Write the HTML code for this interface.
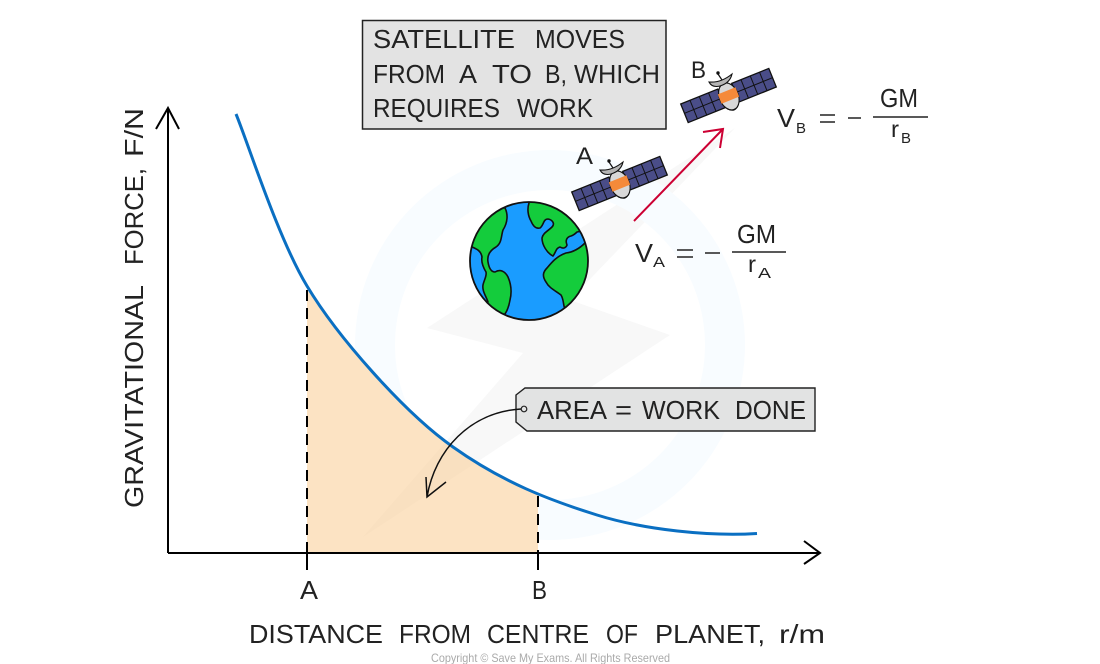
<!DOCTYPE html>
<html>
<head>
<meta charset="utf-8">
<style>
html,body{margin:0;padding:0;background:#fff;width:1100px;height:664px;overflow:hidden}
svg{display:block}
text{font-family:"Liberation Sans",sans-serif;fill:#222;font-size:26px}
</style>
</head>
<body>
<svg width="1100" height="664" viewBox="0 0 1100 664" xmlns="http://www.w3.org/2000/svg">
<defs>
<clipPath id="earth"><circle cx="529" cy="261" r="59"/></clipPath>
<clipPath id="xrange"><rect x="307" y="200" width="231" height="353"/></clipPath>
<clipPath id="area"><path d="M307,286 C337,336 403,411.5 453,447 C503,482.5 549,500 597,515 C645,530 710,536.5 757,533.5 L757,553 L307,553 Z"/></clipPath>
<g id="sat">
<g transform="translate(619.5,183.5) rotate(-22)">
<g fill="#4a4d88" stroke="#111" stroke-width="1.3">
<rect x="-47.5" y="-10" width="40" height="20"/>
<rect x="7.5" y="-10" width="40" height="20"/>
</g>
<path d="M-37.5,-10V10M-27.5,-10V10M-17.5,-10V10M-47.5,0H-7.5M17.5,-10V10M27.5,-10V10M37.5,-10V10M7.5,0H47.5" stroke="#111" stroke-width="1" fill="none"/>
<path d="M-6,12 Q0,19 6,12 L5,9 L-5,9 Z" fill="#888" stroke="#111" stroke-width="1"/>
<ellipse cx="0" cy="1" rx="9.5" ry="14" fill="#d8d8d8" stroke="#111" stroke-width="1.1"/>
<path d="M-9.5,-5 H9.5 V5 H-9.5 Z" fill="#f58a3a"/>
</g>
<path d="M600,170 Q612,171 623,162 Q621,171 611,174 Q603,176 600,170 Z" fill="#b5b5b5" stroke="#111" stroke-width="1.1"/>
<path d="M609,162 L613,168" stroke="#111" stroke-width="1.2"/>
<circle cx="609" cy="161" r="1.7" fill="#111"/>
</g>
</defs>

<rect width="1100" height="664" fill="#fff"/>

<!-- watermark -->
<path fill="#f8f8f8" d="M735,128 L427,328 L523,353 L363,537 L670,335 L570,300 Z"/>
<path fill-rule="evenodd" fill="#f8fcff" d="M355,345 a195,195 0 1,0 390,0 a195,195 0 1,0 -390,0 Z M395,345 a155,155 0 1,1 310,0 a155,155 0 1,1 -310,0 Z"/>

<!-- shaded area -->
<g clip-path="url(#xrange)">
<path d="M307,286 C337,336 403,411.5 453,447 C503,482.5 549,500 597,515 C645,530 710,536.5 757,533.5 L757,553 L307,553 Z" fill="#fce3c3"/>
<path clip-path="url(#area)" fill="#f9e0c0" d="M735,128 L427,328 L523,353 L363,537 L670,335 L570,300 Z"/>
</g>

<!-- axes -->
<path d="M168,553 V108 M156,129 L168,108 L179,129" fill="none" stroke="#000" stroke-width="2"/>
<path d="M168,553 H820 M804,541 L820,553 L804,564" fill="none" stroke="#000" stroke-width="2"/>

<!-- dashes -->
<path d="M307,290 V553" stroke="#000" stroke-width="2" stroke-dasharray="11,7" fill="none"/>
<path d="M538,496 V553" stroke="#000" stroke-width="2" stroke-dasharray="11,7" fill="none"/>
<path d="M307,553 V570 M538,553 V570" stroke="#000" stroke-width="2" fill="none"/>

<!-- curve -->
<path d="M236,114 C248,143 278,238 307,286 C337,336 403,411.5 453,447 C503,482.5 549,500 597,515 C645,530 710,536.5 757,533.5" fill="none" stroke="#0a6fc2" stroke-width="3"/>

<!-- axis labels -->
<text x="300" y="599" textLength="18" lengthAdjust="spacingAndGlyphs">A</text>
<text x="532" y="599" textLength="15" lengthAdjust="spacingAndGlyphs">B</text>
<g>
<text x="249" y="643" textLength="134" lengthAdjust="spacingAndGlyphs">DISTANCE</text>
<text x="399" y="643" textLength="72" lengthAdjust="spacingAndGlyphs">FROM</text>
<text x="487" y="643" textLength="102" lengthAdjust="spacingAndGlyphs">CENTRE</text>
<text x="606" y="643" textLength="32" lengthAdjust="spacingAndGlyphs">OF</text>
<text x="655" y="643" textLength="110" lengthAdjust="spacingAndGlyphs">PLANET,</text>
<text x="779" y="643" textLength="46" lengthAdjust="spacingAndGlyphs">r/m</text>
</g>
<g>
<text transform="translate(143,508) rotate(-90)" textLength="223" lengthAdjust="spacingAndGlyphs">GRAVITATIONAL</text>
<text transform="translate(143,265) rotate(-90)" textLength="97" lengthAdjust="spacingAndGlyphs">FORCE,</text>
<text transform="translate(143,157) rotate(-90)" textLength="49" lengthAdjust="spacingAndGlyphs">F/N</text>
</g>
<text x="431" y="662" textLength="239" lengthAdjust="spacingAndGlyphs" style="fill:#aaa;font-size:12px">Copyright © Save My Exams. All Rights Reserved</text>

<!-- info box -->
<rect x="362.5" y="20.5" width="303.5" height="108.5" fill="#e3e3e3" stroke="#222" stroke-width="1.5"/>
<text x="373" y="48" textLength="142" lengthAdjust="spacingAndGlyphs">SATELLITE</text>
<text x="535" y="48" textLength="90" lengthAdjust="spacingAndGlyphs">MOVES</text>
<text x="373" y="83" textLength="72" lengthAdjust="spacingAndGlyphs">FROM</text>
<text x="459" y="83" textLength="18" lengthAdjust="spacingAndGlyphs">A</text>
<text x="492" y="83" textLength="40" lengthAdjust="spacingAndGlyphs">TO</text>
<text x="545" y="83" textLength="22" lengthAdjust="spacingAndGlyphs">B,</text>
<text x="574" y="83" textLength="86" lengthAdjust="spacingAndGlyphs">WHICH</text>
<text x="373" y="117" textLength="127" lengthAdjust="spacingAndGlyphs">REQUIRES</text>
<text x="517" y="117" textLength="76" lengthAdjust="spacingAndGlyphs">WORK</text>

<!-- earth -->
<circle cx="529" cy="261" r="59" fill="#1a9cff"/>
<g clip-path="url(#earth)" fill="#14cc3c" stroke="#111" stroke-width="1.6" stroke-linejoin="round">
<path d="M505,208 C508,214 508,222 503,230 C501,236 502,243 496,247 C489,251 487,256 488,262 C489,268 491,272 495,272 C500,269 505,271 508,277 C511,284 512,292 510,300 C509,306 507,311 505,314 L440,330 L488,302 C486,296 482,291 483,285 C484,280 487,276 486,272 C483,267 481,262 482,257 C481,251 477,249 472,247 L440,230 L480,190 Z"/>
<path d="M529,203 C527,209 528,216 531,221 C533,226 536,229 540,228 C544,225 543,219 548,219 C553,220 555,224 552,227 C548,231 543,233 542,238 C542,245 547,253 553,256 C556,252 556,248 560,247 C563,249 566,248 567,245 C565,240 567,237 571,236 C574,235 576,233 577,232 L610,225 L600,190 L529,185 Z"/>
<path d="M585,243 C580,248 574,252 566,253 C557,256 552,262 547,268 C543,272 542,276 546,282 C549,288 556,291 561,295 C564,300 563,305 565,309 L570,330 L610,290 L600,240 Z"/>
</g>
<circle cx="529" cy="261" r="59" fill="none" stroke="#111" stroke-width="1.8"/>

<!-- satellites -->
<use href="#sat"/>
<use href="#sat" transform="translate(109,-88)"/>
<text x="576" y="164" textLength="17" lengthAdjust="spacingAndGlyphs" style="font-size:24px">A</text>
<text x="691" y="78" textLength="15" lengthAdjust="spacingAndGlyphs" style="font-size:24px">B</text>

<!-- red arrow -->
<path d="M634,221 L723,129 M703,132 L723,129 L720,148" fill="none" stroke="#cc0033" stroke-width="2"/>

<!-- V_B -->
<text x="777" y="127" textLength="18" lengthAdjust="spacingAndGlyphs">V</text>
<text x="796" y="133" textLength="10" lengthAdjust="spacingAndGlyphs" style="font-size:15px">B</text>
<path d="M820,115 H835 M820,122 H835 M848,118 H861 M873,117 H928" stroke="#222" stroke-width="1.6" fill="none"/>
<text x="880" y="107" textLength="38" lengthAdjust="spacingAndGlyphs">GM</text>
<text x="891" y="137" textLength="8" lengthAdjust="spacingAndGlyphs" style="font-size:23px">r</text>
<text x="901" y="143" textLength="10" lengthAdjust="spacingAndGlyphs" style="font-size:15px">B</text>

<!-- V_A -->
<text x="635" y="262" textLength="18" lengthAdjust="spacingAndGlyphs">V</text>
<text x="653" y="267" textLength="12" lengthAdjust="spacingAndGlyphs" style="font-size:15px">A</text>
<path d="M677,250 H693 M677,257 H693 M705,253 H720 M732,252 H786" stroke="#222" stroke-width="1.6" fill="none"/>
<text x="737" y="243" textLength="39" lengthAdjust="spacingAndGlyphs">GM</text>
<text x="748" y="272" textLength="8" lengthAdjust="spacingAndGlyphs" style="font-size:23px">r</text>
<text x="758" y="278" textLength="13" lengthAdjust="spacingAndGlyphs" style="font-size:15px">A</text>

<!-- tag -->
<path d="M516,395 L525,388 H815 V431 H527 L516,422 Z" fill="#e2e3e3" stroke="#222" stroke-width="1.4"/>
<circle cx="524" cy="409" r="2.8" fill="none" stroke="#222" stroke-width="1.2"/>
<text x="537" y="419" textLength="70" lengthAdjust="spacingAndGlyphs">AREA</text>
<text x="615" y="419" textLength="17" lengthAdjust="spacingAndGlyphs">=</text>
<text x="642" y="419" textLength="78" lengthAdjust="spacingAndGlyphs">WORK</text>
<text x="735" y="419" textLength="71" lengthAdjust="spacingAndGlyphs">DONE</text>
<path d="M521,409 C470,412 435,450 427,497 M426,477 L427,497 L446,482" fill="none" stroke="#111" stroke-width="1.5"/>
</svg>
</body>
</html>
